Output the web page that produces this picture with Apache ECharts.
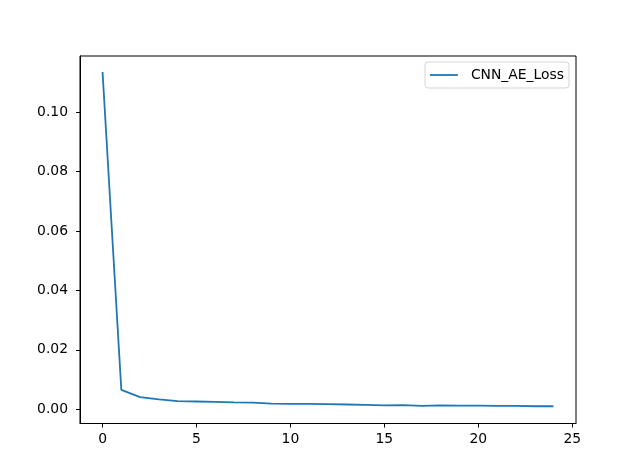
<!DOCTYPE html>
<html>
<head>
<meta charset="utf-8">
<script src="https://cdn.jsdelivr.net/npm/echarts@6/dist/echarts.min.js"></script>
<style>html,body{margin:0;padding:0;background:#fff}#c{width:640px;height:476px}</style>
</head>
<body>
<div id="c"></div>
<script>
const epochs = [0,1,2,3,4,5,6,7,8,9,10,11,12,13,14,15,16,17,18,19,20,21,22,23,24];
const lossValues = [0.1135,0.0065,0.0041,0.0033,0.0027,0.0026,0.0025,0.0023,0.0022,0.0019,0.0018,0.0018,0.0017,0.0016,0.0015,0.0013,0.0014,0.0011,0.0013,0.0012,0.0012,0.0011,0.0011,0.0010,0.0010];
const seriesName = 'CNN_AE_Loss';
const xTicks = [0,5,10,15,20,25];
const yTicks = [0,0.02,0.04,0.06,0.08,0.10];

const font = 'DejaVu Sans';
const chart = echarts.init(document.getElementById('c'));
chart.setOption({
  animation: false,
  backgroundColor: '#fff',
  grid: {left: 80, right: 64, top: 56, bottom: 52.5, show: true, borderColor: '#000', borderWidth: 1, backgroundColor: 'transparent'},
  legend: {
    right: 71, top: 62,
    padding: [6, 5, 6, 4],
    itemWidth: 28, itemHeight: 14,
    borderColor: '#d5d5d5', borderWidth: 1, borderRadius: 3,
    itemStyle: {opacity: 0},
    lineStyle: {color: '#1f77b4', width: 1.8},
    textStyle: {fontFamily: font, fontSize: 13.9, color: '#000', padding: [0, 0, 0, 8]},
    data: [seriesName]
  },
  xAxis: {
    type: 'value', min: -1.2, max: 25.2,
    splitLine: {show: false},
    axisLine: {show: true, onZero: false, lineStyle: {color: '#000', width: 1}},
    axisTick: {show: true, inside: false, length: 4, lineStyle: {color: '#000'}, customValues: xTicks},
    axisLabel: {customValues: xTicks, margin: 9, fontFamily: font, fontSize: 13.9, color: '#000'}
  },
  yAxis: {
    type: 'value', min: -0.0048, max: 0.1189,
    splitLine: {show: false},
    axisLine: {show: true, onZero: false, lineStyle: {color: '#000', width: 1}},
    axisTick: {show: true, inside: false, length: 4, lineStyle: {color: '#000'}, customValues: yTicks},
    axisLabel: {customValues: yTicks, margin: 12, fontFamily: font, fontSize: 13.9, color: '#000',
      formatter: v => v.toFixed(2)}
  },
  series: [{
    name: seriesName, type: 'line', symbol: 'none',
    lineStyle: {color: '#1f77b4', width: 1.8},
    itemStyle: {color: '#1f77b4'},
    data: epochs.map((e, i) => [e, lossValues[i]])
  }]
});
</script>
</body>
</html>
